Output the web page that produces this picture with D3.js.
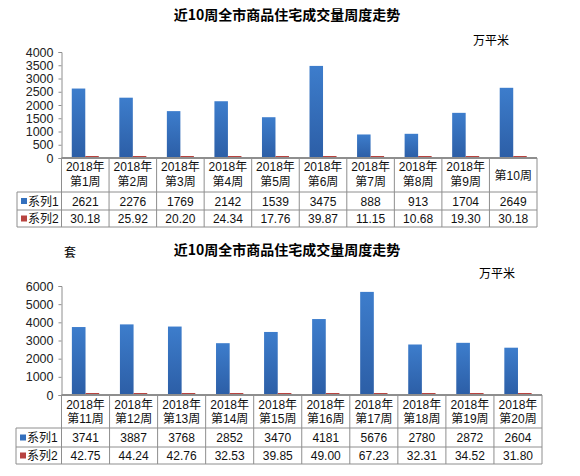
<!DOCTYPE html>
<html>
<head>
<meta charset="utf-8">
<script src="https://d3js.org/d3.v7.min.js"></script>
<style>
  body { margin: 0; background: #fff; font-family: "Liberation Sans", "Noto Sans CJK SC", sans-serif; }
</style>
</head>
<body>
<div id="chart"></div>
<script>
// chart data
const titleText = "近10周全市商品住宅成交量周度走势";
const unitText = "万平米";
const seriesNames = ["系列1", "系列2"];

const weeksTop = [["2018年","第1周"],["2018年","第2周"],["2018年","第3周"],["2018年","第4周"],["2018年","第5周"],
                  ["2018年","第6周"],["2018年","第7周"],["2018年","第8周"],["2018年","第9周"],["第10周"]];
const topS1 = [2621, 2276, 1769, 2142, 1539, 3475, 888, 913, 1704, 2649];
const topS2 = [30.18, 25.92, 20.20, 24.34, 17.76, 39.87, 11.15, 10.68, 19.30, 30.18];
const topTicks = [0, 500, 1000, 1500, 2000, 2500, 3000, 3500, 4000];

const weeksBot = [["2018年","第11周"],["2018年","第12周"],["2018年","第13周"],["2018年","第14周"],["2018年","第15周"],
                  ["2018年","第16周"],["2018年","第17周"],["2018年","第18周"],["2018年","第19周"],["2018年","第20周"]];
const botS1 = [3741, 3887, 3768, 2852, 3470, 4181, 5676, 2780, 2872, 2604];
const botS2 = [42.75, 44.24, 42.76, 32.53, 39.85, 49.00, 67.23, 32.31, 34.52, 31.80];
const botTicks = [0, 1000, 2000, 3000, 4000, 5000, 6000];

const svg = d3.select("#chart").append("svg")
  .attr("width", 580).attr("height", 476);

const defs = svg.append("defs");
const gBlue = defs.append("linearGradient").attr("id", "gBlue").attr("x1", 0).attr("y1", 0).attr("x2", 0).attr("y2", 1);
gBlue.append("stop").attr("offset", "0%").attr("stop-color", "#3d7dcc");
gBlue.append("stop").attr("offset", "100%").attr("stop-color", "#2c5ea6");

const colors = ["url(#gBlue)", "#b8433f"];
const swatch = ["#3470bd", "#b8433f"];
const gridColor = "#8e8e8e";

function drawChart(opt) {
  const g = svg.append("g");
  const x = d3.scaleBand().domain(d3.range(10)).range([61.5, opt.right]);
  const sub = d3.scaleBand().domain([0, 1]).range([0, x.bandwidth()]).paddingOuter(0.76);
  const y = d3.scaleLinear().domain([0, opt.max]).range([opt.axisY, opt.topY]);

  // title + units
  g.append("text").attr("x", 287).attr("y", opt.titleY)
    .attr("text-anchor", "middle").attr("font-size", 14).attr("font-weight", "bold")
    .attr("font-family", "'Noto Sans CJK SC', sans-serif")
    .text(titleText);
  g.append("text").attr("x", opt.unitX).attr("y", opt.unitY)
    .attr("font-size", 12).attr("font-family", "'Noto Sans CJK SC', sans-serif")
    .text(unitText);
  if (opt.leftUnit) {
    g.append("text").attr("x", 64).attr("y", opt.titleY + 2)
      .attr("font-size", 12).attr("font-family", "'Noto Sans CJK SC', sans-serif")
      .text(opt.leftUnit);
  }

  // y axis
  const ya = g.append("g").attr("transform", "translate(61.5,0)")
    .call(d3.axisLeft(y).tickValues(opt.ticks).tickFormat(d3.format("d")).tickSize(3).tickPadding(5));
  ya.select(".domain").attr("stroke", gridColor);
  ya.selectAll(".tick line").attr("stroke", gridColor);
  ya.selectAll(".tick text").attr("font-size", 12.5).attr("fill", "#222")
    .attr("font-family", "'Liberation Sans', sans-serif");

  // bars
  [opt.s1, opt.s2].forEach((vals, si) => {
    g.append("g").selectAll("rect").data(vals).join("rect")
      .attr("x", (d, i) => x(i) + sub(si))
      .attr("y", d => Math.min(y(d), opt.axisY - 2))
      .attr("width", sub.bandwidth())
      .attr("height", d => Math.max(2, opt.axisY - y(d)))
      .attr("fill", colors[si]);
  });

  // table
  const t = g.append("g").attr("font-family", "'Liberation Sans', 'Noto Sans CJK SC', sans-serif")
    .attr("font-size", 12).attr("fill", "#111");
  const r0 = opt.axisY, r1 = opt.row1, r2 = opt.row2, r3 = opt.row3;
  const L = opt.legendX, R = opt.right;
  const line = (x1, y1, x2, y2, w) => t.append("line").attr("x1", x1).attr("y1", y1).attr("x2", x2).attr("y2", y2)
    .attr("stroke", gridColor).attr("stroke-width", w || 1);
  line(61.5, r0, R, r0, 2);
  line(L, r1, R, r1);
  line(L, r2, R, r2);
  line(L, r3, R, r3);
  line(L, r1, L, r3);
  d3.range(11).forEach(i => {
    const xx = i < 10 ? x(i) : R;
    line(xx, r0, xx, r3);
  });

  opt.weeks.forEach((w, i) => {
    const cx = x(i) + x.bandwidth() / 2;
    if (w.length === 2) {
      t.append("text").attr("x", cx).attr("y", opt.h1).attr("text-anchor", "middle").text(w[0]);
      t.append("text").attr("x", cx).attr("y", opt.h2).attr("text-anchor", "middle").text(w[1]);
    } else {
      t.append("text").attr("x", cx).attr("y", (r0 + r1) / 2 + 4.5).attr("text-anchor", "middle").text(w[0]);
    }
    t.append("text").attr("x", cx).attr("y", (r1 + r2) / 2 + 4.5).attr("text-anchor", "middle").text(opt.s1[i]);
    t.append("text").attr("x", cx).attr("y", (r2 + r3) / 2 + 4.5).attr("text-anchor", "middle").text(opt.s2[i].toFixed(2));
  });

  [[r1, r2], [r2, r3]].forEach((rr, si) => {
    const cy = (rr[0] + rr[1]) / 2;
    t.append("rect").attr("x", L + 4).attr("y", cy - 3).attr("width", 6).attr("height", 6).attr("fill", swatch[si]);
    t.append("text").attr("x", L + 11).attr("y", cy + 4.5).text(seriesNames[si]);
  });
}

drawChart({
  weeks: weeksTop, s1: topS1, s2: topS2, ticks: topTicks, max: 4000,
  axisY: 158, topY: 52, right: 537, legendX: 17,
  row1: 192, row2: 210, row3: 227, h1: 171, h2: 186,
  titleY: 20, unitX: 473, unitY: 45
});

drawChart({
  weeks: weeksBot, s1: botS1, s2: botS2, ticks: botTicks, max: 6000,
  axisY: 395, topY: 286, right: 542, legendX: 16,
  row1: 428, row2: 447, row3: 464, h1: 409, h2: 423,
  titleY: 255, unitX: 479, unitY: 278, leftUnit: "套"
});
</script>
</body>
</html>
